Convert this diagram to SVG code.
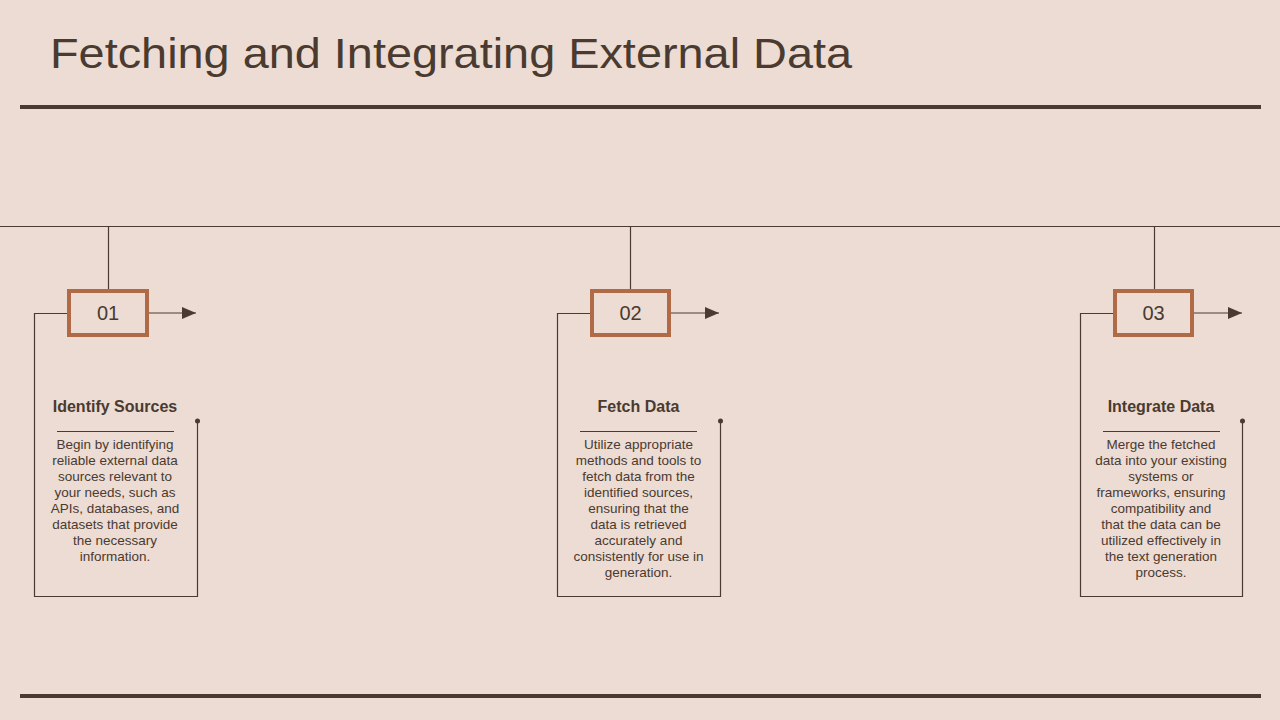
<svg xmlns="http://www.w3.org/2000/svg" width="1280" height="720" viewBox="0 0 1280 720">
<defs>
<marker id="arr" viewBox="0 0 14 12" refX="14" refY="6" markerWidth="15" markerHeight="12" markerUnits="userSpaceOnUse" orient="auto"><path d="M0,0 L14,6 L0,12 z" fill="#4a3a30"/></marker>
<style>
.ln{stroke:#4a3a30;stroke-width:1.2;fill:none}
.rule{stroke:#4a3a30;stroke-width:4}
.box{fill:#ecdcd3;stroke:#b06a45;stroke-width:4}
.num{font-family:"Liberation Sans",Arial,sans-serif;font-size:20px;fill:#4a3a30;text-anchor:middle}
.hd{font-family:"Liberation Sans",Arial,sans-serif;font-size:16px;font-weight:bold;fill:#4a3a30;text-anchor:middle}
.bd{font-family:"Liberation Sans",Arial,sans-serif;font-size:13.5px;fill:#4a3a30;text-anchor:middle}
.ttl{font-family:"Liberation Sans",Arial,sans-serif;font-size:42px;fill:#4a3a30}
</style>
</defs>
<rect width="1280" height="720" fill="#ecdcd3"/>
<text class="ttl" x="50" y="68" textLength="802" lengthAdjust="spacingAndGlyphs">Fetching and Integrating External Data</text>
<line class="rule" x1="20" y1="107" x2="1261" y2="107"/>
<line class="rule" x1="20" y1="696" x2="1261" y2="696"/>
<g id="connectors">
<line class="ln" x1="0" y1="226.5" x2="1280" y2="226.5"/>
<line class="ln" x1="108.5" y1="226" x2="108.5" y2="290"/>
<line class="ln" x1="630.5" y1="226" x2="630.5" y2="290"/>
<line class="ln" x1="1154.5" y1="226" x2="1154.5" y2="290"/>
<line class="ln" x1="148" y1="313" x2="196" y2="313" marker-end="url(#arr)"/>
<line class="ln" x1="670" y1="313" x2="719" y2="313" marker-end="url(#arr)"/>
<line class="ln" x1="1193" y1="313" x2="1242" y2="313" marker-end="url(#arr)"/>
<path class="ln" d="M68,313.5 H34.5 V596.5 H197.5 V421"/>
<path class="ln" d="M591,313.5 H557.5 V596.5 H720.5 V421"/>
<path class="ln" d="M1114,313.5 H1080.5 V596.5 H1242.5 V421"/>
<circle cx="197.5" cy="421" r="2.5" fill="#4a3a30"/>
<circle cx="720.5" cy="421" r="2.5" fill="#4a3a30"/>
<circle cx="1242.5" cy="421" r="2.5" fill="#4a3a30"/>
</g>
<g id="node1">
<rect class="box" x="69" y="291" width="78" height="44"/>
<text class="num" x="108" y="320">01</text>
<text class="hd" x="115" y="412">Identify Sources</text>
<line class="ln" x1="57" y1="431.5" x2="174" y2="431.5"/>
<text class="bd" x="115" y="449">Begin by identifying</text>
<text class="bd" x="115" y="465">reliable external data</text>
<text class="bd" x="115" y="481">sources relevant to</text>
<text class="bd" x="115" y="497">your needs, such as</text>
<text class="bd" x="115" y="513">APIs, databases, and</text>
<text class="bd" x="115" y="529">datasets that provide</text>
<text class="bd" x="115" y="545">the necessary</text>
<text class="bd" x="115" y="561">information.</text>
</g>
<g id="node2">
<rect class="box" x="592" y="291" width="77" height="44"/>
<text class="num" x="630.5" y="320">02</text>
<text class="hd" x="638.5" y="412">Fetch Data</text>
<line class="ln" x1="580" y1="431.5" x2="697" y2="431.5"/>
<text class="bd" x="638.5" y="449">Utilize appropriate</text>
<text class="bd" x="638.5" y="465">methods and tools to</text>
<text class="bd" x="638.5" y="481">fetch data from the</text>
<text class="bd" x="638.5" y="497">identified sources,</text>
<text class="bd" x="638.5" y="513">ensuring that the</text>
<text class="bd" x="638.5" y="529">data is retrieved</text>
<text class="bd" x="638.5" y="545">accurately and</text>
<text class="bd" x="638.5" y="561">consistently for use in</text>
<text class="bd" x="638.5" y="577">generation.</text>
</g>
<g id="node3">
<rect class="box" x="1115" y="291" width="77" height="44"/>
<text class="num" x="1153.5" y="320">03</text>
<text class="hd" x="1161" y="412">Integrate Data</text>
<line class="ln" x1="1103" y1="431.5" x2="1220" y2="431.5"/>
<text class="bd" x="1161" y="449">Merge the fetched</text>
<text class="bd" x="1161" y="465">data into your existing</text>
<text class="bd" x="1161" y="481">systems or</text>
<text class="bd" x="1161" y="497">frameworks, ensuring</text>
<text class="bd" x="1161" y="513">compatibility and</text>
<text class="bd" x="1161" y="529">that the data can be</text>
<text class="bd" x="1161" y="545">utilized effectively in</text>
<text class="bd" x="1161" y="561">the text generation</text>
<text class="bd" x="1161" y="577">process.</text>
</g>
</svg>
